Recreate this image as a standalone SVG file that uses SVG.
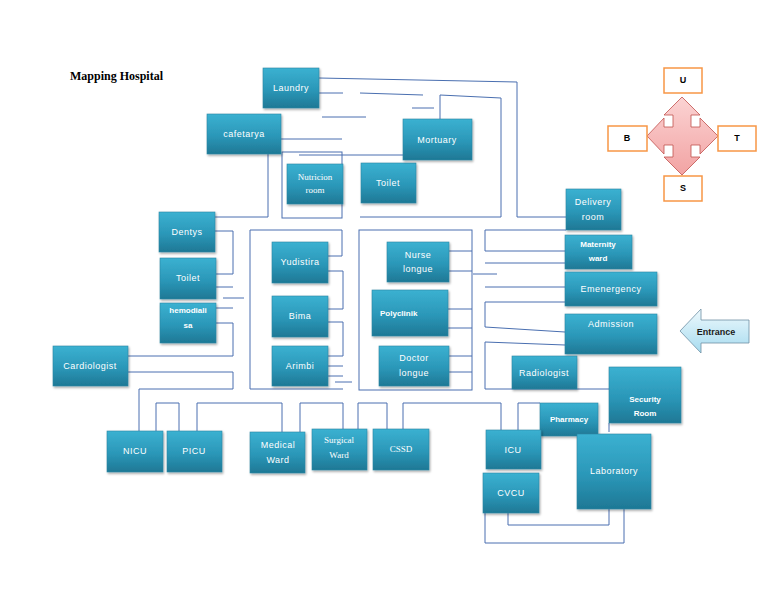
<svg xmlns="http://www.w3.org/2000/svg" width="768" height="594" viewBox="0 0 768 594">
<defs>
<linearGradient id="g" x1="0" y1="0" x2="0" y2="1">
<stop offset="0" stop-color="#3bb1d1"/>
<stop offset="0.55" stop-color="#2b97b8"/>
<stop offset="1" stop-color="#1e7895"/>
</linearGradient>
<linearGradient id="ge" x1="0" y1="0" x2="0" y2="1">
<stop offset="0" stop-color="#eef9fd"/>
<stop offset="1" stop-color="#a6dbef"/>
</linearGradient>
<linearGradient id="gc" x1="0" y1="0" x2="0" y2="1">
<stop offset="0" stop-color="#fbd3d3"/>
<stop offset="1" stop-color="#f2a3a3"/>
</linearGradient>
<filter id="sh" x="-10%" y="-10%" width="130%" height="130%">
<feDropShadow dx="1" dy="1.5" stdDeviation="0.8" flood-color="#000" flood-opacity="0.35"/>
</filter>
</defs>
<style>
.n{fill:url(#g);stroke:#2a86a4;stroke-width:0.6;filter:url(#sh)}
.t{fill:#fff;font-family:"Liberation Sans",Arial,sans-serif;font-size:9px;letter-spacing:0.5px;text-anchor:middle}
.tb{fill:#fff;font-family:"Liberation Sans",Arial,sans-serif;font-size:8px;font-weight:bold;text-anchor:middle}
.ts{fill:#fff;font-family:"Liberation Serif","Times New Roman",serif;font-size:9px;text-anchor:middle}
.c{fill:none;stroke:#4a6fb0;stroke-width:1}
.cb{fill:#fff;stroke:#f79646;stroke-width:1.5}
.ct{fill:#000;font-family:"Liberation Sans",Arial,sans-serif;font-size:9px;font-weight:bold;text-anchor:middle}
</style>
<rect width="768" height="594" fill="#fff"/>
<text x="70" y="80" font-family="'Liberation Serif','Times New Roman',serif" font-size="12" font-weight="bold" fill="#000">Mapping Hospital</text>

<g id="connectors" class="c">
<polyline points="319,78 517,82 517,217 566,217"/>
<line x1="319" y1="93" x2="343" y2="93"/>
<line x1="360" y1="93" x2="423" y2="95"/>
<line x1="412" y1="108" x2="434" y2="108"/>
<line x1="322" y1="117" x2="366" y2="117"/>
<line x1="281" y1="139" x2="342" y2="139"/>
<line x1="299" y1="155" x2="403" y2="155"/>
<polyline points="440,119 440,95 501,98 501,217 360,217"/>
<rect x="282" y="152" width="60" height="66"/>
<polyline points="268,154 268,217 215,217"/>
<polyline points="215,231 233,231 233,274 216,274"/>
<line x1="216" y1="287" x2="233" y2="287"/>
<line x1="223" y1="298" x2="244" y2="298"/>
<line x1="216" y1="308" x2="233" y2="308"/>
<polyline points="216,323 233,323 233,356 128,356"/>
<polyline points="128,372 233,372 233,389 139,389 139,431"/>
<polyline points="342,230 250,230 250,389 343,389"/>
<polyline points="342,230 342,256 328,256"/>
<polyline points="328,271 343,271 343,309 328,309"/>
<polyline points="328,322 343,322 343,356 328,356"/>
<line x1="328" y1="366" x2="343" y2="366"/>
<line x1="328" y1="376" x2="343" y2="376"/>
<line x1="335" y1="382" x2="352" y2="382"/>
<rect x="359" y="230" width="113" height="160"/>
<line x1="449" y1="251" x2="472" y2="251"/>
<line x1="449" y1="271" x2="472" y2="271"/>
<line x1="473" y1="274" x2="497" y2="274"/>
<line x1="448" y1="309" x2="472" y2="309"/>
<line x1="448" y1="328" x2="472" y2="328"/>
<line x1="449" y1="356" x2="472" y2="356"/>
<line x1="449" y1="372" x2="472" y2="372"/>
<polyline points="566,230 485,230 485,251 565,251"/>
<line x1="485" y1="263" x2="565" y2="263"/>
<line x1="485" y1="287" x2="565" y2="287"/>
<polyline points="565,302 485,302 485,327 565,332"/>
<polyline points="565,345 485,342 485,389 609,389"/>
<polyline points="156,431 156,403 179,403 179,431"/>
<polyline points="197,431 197,403 282,403 282,432"/>
<polyline points="300,432 300,403 343,403 343,429"/>
<polyline points="358,429 358,403 387,403 387,429"/>
<polyline points="403,429 403,403 501,403 501,430"/>
<polyline points="518,430 518,403 540,403"/>
<line x1="609" y1="423" x2="609" y2="432"/>
<polyline points="508,513 508,525 609,525 609,509"/>
<polyline points="485,513 485,543 624,543 624,509"/>
</g>

<g id="laundry"><rect class="n" x="263" y="68" width="56" height="40"/><text class="t" x="291" y="91">Laundry</text></g>
<g id="cafetarya"><rect class="n" x="207" y="114" width="74" height="40"/><text class="t" x="244" y="137">cafetarya</text></g>
<g id="nutricion"><rect class="n" x="287" y="164" width="56" height="40"/><text class="ts" x="315" y="180">Nutricion</text><text class="ts" x="315" y="193">room</text></g>
<g id="toilet-top"><rect class="n" x="361" y="163" width="55" height="40"/><text class="t" x="388" y="186">Toilet</text></g>
<g id="mortuary"><rect class="n" x="403" y="119" width="69" height="41"/><text class="t" x="437" y="143">Mortuary</text></g>
<g id="dentys"><rect class="n" x="159" y="212" width="56" height="40"/><text class="t" x="187" y="235">Dentys</text></g>
<g id="toilet-left"><rect class="n" x="160" y="258" width="56" height="41"/><text class="t" x="188" y="281">Toilet</text></g>
<g id="hemodialisa"><rect class="n" x="160" y="303" width="56" height="40"/><text class="tb" x="188" y="313">hemodiali</text><text class="tb" x="188" y="328">sa</text></g>
<g id="cardiologist"><rect class="n" x="53" y="346" width="75" height="40"/><text class="t" x="90" y="369">Cardiologist</text></g>
<g id="yudistira"><rect class="n" x="272" y="242" width="56" height="41"/><text class="t" x="300" y="265">Yudistira</text></g>
<g id="bima"><rect class="n" x="272" y="296" width="56" height="41"/><text class="t" x="300" y="319">Bima</text></g>
<g id="arimbi"><rect class="n" x="272" y="346" width="56" height="40"/><text class="t" x="300" y="369">Arimbi</text></g>
<g id="nurse"><rect class="n" x="387" y="242" width="62" height="40"/><text class="t" x="418" y="258">Nurse</text><text class="t" x="418" y="272">longue</text></g>
<g id="polyclinik"><rect class="n" x="372" y="290" width="76" height="46"/><text class="tb" x="380" y="316" style="text-anchor:start">Polyclinik</text></g>
<g id="doctor"><rect class="n" x="379" y="346" width="70" height="40"/><text class="t" x="414" y="361">Doctor</text><text class="t" x="414" y="376">longue</text></g>
<g id="delivery"><rect class="n" x="566" y="189" width="55" height="41"/><text class="t" x="593" y="205">Delivery</text><text class="t" x="593" y="220">room</text></g>
<g id="maternity"><rect class="n" x="565" y="235" width="67" height="34"/><text class="tb" x="598" y="247">Maternity</text><text class="tb" x="598" y="261">ward</text></g>
<g id="emergency"><rect class="n" x="565" y="272" width="92" height="34"/><text class="t" x="611" y="292">Emenergency</text></g>
<g id="admission"><rect class="n" x="565" y="314" width="92" height="40"/><text class="t" x="611" y="327">Admission</text></g>
<g id="radiologist"><rect class="n" x="512" y="356" width="65" height="33"/><text class="t" x="544" y="376">Radiologist</text></g>
<g id="security"><rect class="n" x="609" y="367" width="72" height="56"/><text class="tb" x="645" y="402">Security</text><text class="tb" x="645" y="416">Room</text></g>
<g id="pharmacy"><rect class="n" x="540" y="403" width="58" height="33"/><text class="tb" x="569" y="422">Pharmacy</text></g>
<g id="icu"><rect class="n" x="486" y="430" width="55" height="39"/><text class="t" x="513" y="453">ICU</text></g>
<g id="cvcu"><rect class="n" x="483" y="473" width="56" height="40"/><text class="t" x="511" y="496">CVCU</text></g>
<g id="laboratory"><rect class="n" x="577" y="434" width="74" height="75"/><text class="t" x="614" y="474">Laboratory</text></g>
<g id="nicu"><rect class="n" x="107" y="431" width="56" height="41"/><text class="t" x="135" y="454">NICU</text></g>
<g id="picu"><rect class="n" x="167" y="431" width="55" height="41"/><text class="t" x="194" y="454">PICU</text></g>
<g id="medical"><rect class="n" x="250" y="432" width="55" height="41"/><text class="t" x="278" y="448">Medical</text><text class="t" x="278" y="463">Ward</text></g>
<g id="surgical"><rect class="n" x="312" y="429" width="55" height="41"/><text class="ts" x="339" y="443">Surgical</text><text class="ts" x="339" y="458">Ward</text></g>
<g id="cssd"><rect class="n" x="373" y="429" width="56" height="41"/><text class="ts" x="401" y="452">CSSD</text></g>

<g id="entrance">
<polygon points="680,331 701,309 701,320 749,320 749,343 701,343 701,353" fill="url(#ge)" stroke="#6f8fa3" stroke-width="0.8"/>
<text x="716" y="335" font-family="'Liberation Sans',Arial,sans-serif" font-size="9" font-weight="bold" fill="#1a1a1a" text-anchor="middle">Entrance</text>
</g>

<g id="compass">
<polygon points="682,97 700,115 691,115 691,127 700,127 700,118 718,136 700,154 700,145 691,145 691,157 700,157 682,175 664,157 673,157 673,145 664,145 664,154 647,136 664,118 664,127 673,127 673,115 664,115" fill="url(#gc)" stroke="#c0504d" stroke-width="0.8"/>
<g id="u"><rect class="cb" x="664" y="68" width="38" height="25"/><text class="ct" x="683" y="83">U</text></g>
<g id="b"><rect class="cb" x="608" y="126" width="39" height="25"/><text class="ct" x="627" y="141">B</text></g>
<g id="t"><rect class="cb" x="718" y="126" width="38" height="25"/><text class="ct" x="737" y="141">T</text></g>
<g id="s"><rect class="cb" x="664" y="176" width="38" height="25"/><text class="ct" x="683" y="191">S</text></g>
</g>
</svg>
